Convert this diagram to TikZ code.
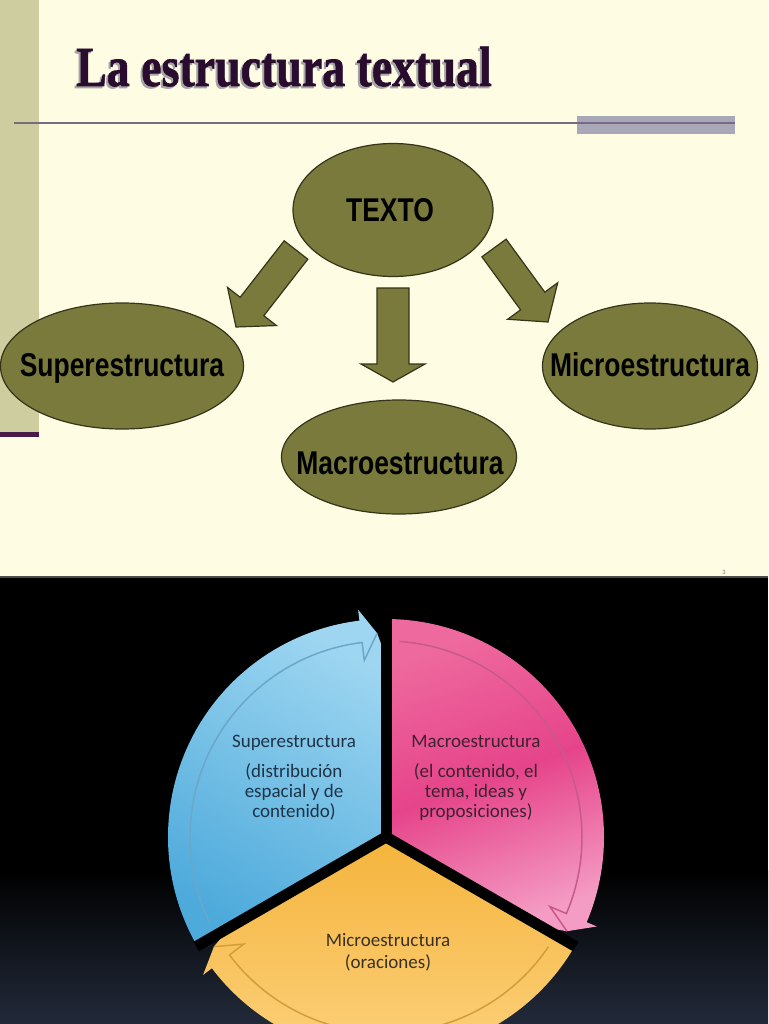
\documentclass[tikz,border=0pt]{standalone}
\usepackage{fontspec}
\setmainfont{Liberation Sans}
\newfontfamily\titlefont[FakeBold=1.2]{Liberation Serif Bold}
\newfontfamily\calfont{Carlito}
\usetikzlibrary{shapes.geometric,calc}
\definecolor{cream}{HTML}{FEFDE3}
\definecolor{stripcol}{HTML}{CDCD9F}
\definecolor{plumline}{HTML}{4A1A4A}
\definecolor{titlecol}{HTML}{2A0C2E}
\definecolor{rulecol}{HTML}{7A6A80}
\definecolor{barcol}{HTML}{A8A8B8}
\definecolor{bubfill}{HTML}{7A7A3C}
\definecolor{bubdraw}{HTML}{34341A}
\definecolor{blueL}{HTML}{9ED6F1}
\definecolor{blueD}{HTML}{4DAADB}
\definecolor{blueLine}{HTML}{4A88AE}
\definecolor{pinkL}{HTML}{F49CC4}
\definecolor{pinkM}{HTML}{E6448A}
\definecolor{pinkT}{HTML}{EE6A9E}
\definecolor{pinkLine}{HTML}{B23E72}
\definecolor{orD}{HTML}{F5B43C}
\definecolor{orL}{HTML}{FCD07A}
\definecolor{orLine}{HTML}{C8922C}
\definecolor{txtblue}{HTML}{1E3446}
\definecolor{txtpink}{HTML}{3E2230}
\definecolor{txtor}{HTML}{3A3024}
\definecolor{navybot}{HTML}{222A3A}
\tikzset{
  bubble/.style={ellipse, draw=bubdraw, line width=1.2pt, fill=bubfill, inner sep=0pt},
  bubtext/.style={anchor=base, inner sep=0pt, font=\bfseries\fontsize{27}{30}\selectfont, text=black},
  blockarrow/.style={fill=bubfill, draw=bubdraw, line width=1.2pt, line join=miter},
  cyctext/.style={anchor=base, inner sep=0pt, font=\calfont\fontsize{19}{22}\selectfont},
  sepline/.style={black, line width=11pt},
  ringline/.style={line width=1.5pt}
}
\newcommand\bt[1]{\scalebox{0.98}[1.22]{#1}}
% start, tip, half shaft, half head, head length
\newcommand\blockarr[5]{%
  \coordinate (ba-b) at ($(#2)!#5!(#1)$);
  \draw[blockarrow] ($(#1)!#3!90:(#2)$) -- ($(ba-b)!#3!90:(#2)$) -- ($(ba-b)!#4!90:(#2)$)
     -- (#2) -- ($(ba-b)!#4!-90:(#2)$) -- ($(ba-b)!#3!-90:(#2)$) -- ($(#1)!#3!-90:(#2)$) -- cycle;
}
\begin{document}
\begin{tikzpicture}[x=1pt,y=-1pt]
\useasboundingbox (0,0) rectangle (768,1024);
% top slide
\fill[cream] (0,0) rectangle (768,576);
\fill[stripcol] (0,0) rectangle (39,432);
\fill[plumline] (0,432) rectangle (39,437);
\fill[barcol] (577,116) rectangle (735,134);
\draw[rulecol, line width=1.6pt] (14,123) -- (735,123);
\node[anchor=base west, inner sep=0pt, text=gray!70] at (74,88)
  {\scalebox{0.85}[1.05]{\titlefont\fontsize{54}{56}\selectfont La estructura textual}};
\node (title) [anchor=base west, inner sep=0pt, text=titlecol] at (76,86)
  {\scalebox{0.85}[1.05]{\titlefont\fontsize{54}{56}\selectfont La estructura textual}};
% bubbles
\node (texto) [bubble, minimum width=200pt, minimum height=133pt] at (393,210) {};
\node (super) [bubble, minimum width=243pt, minimum height=126pt] at (122,366) {};
\node (micro) [bubble, minimum width=215pt, minimum height=126pt] at (650,366) {};
\node (macro) [bubble, minimum width=235pt, minimum height=114pt] at (399,457) {};
\node (textoL) [bubtext] at (390,222) {\bt{TEXTO}};
\node (superL) [bubtext] at (122,376) {\bt{Superestructura}};
\node (microL) [bubtext] at (650,376) {\bt{Microestructura}};
\node (macroL) [bubtext] at (400,474) {\bt{Macroestructura}};
% block arrows
\coordinate (aLs) at (296,250); \coordinate (aLt) at (236,327);
\coordinate (aMs) at (393,288); \coordinate (aMt) at (393,382);
\coordinate (aRs) at (494,248); \coordinate (aRt) at (548,322);
\blockarr{aLs}{aLt}{15pt}{31pt}{26pt}
\blockarr{aMs}{aMt}{16pt}{32pt}{18pt}
\blockarr{aRs}{aRt}{15pt}{31pt}{26pt}
\node (pg) [text=gray, font=\fontsize{6}{7}\selectfont, inner sep=0pt] at (724,572) {3};
% bottom slide
\fill[black] (0,577) rectangle (768,1024);
\shade[top color=black, bottom color=navybot] (0,870) rectangle (768,1024);
\draw[gray!60!black, line width=2pt] (0,577) -- (768,577);
% cycle
\begin{scope}[shift={(386,837)}]
  \shade[top color=blueL, bottom color=blueD, shading angle=-30]
    (0,0) -- (210:218pt) arc[start angle=210, end angle=97, radius=218pt]
    -- (97:229pt) -- (92.5:204pt) -- (90:180pt) -- cycle;
  \shade[top color=pinkT, bottom color=pinkL, middle color=pinkM, shading angle=20]
    (0,0) -- (90:218pt) arc[start angle=90, end angle=-23, radius=218pt]
    -- (-23:229pt) -- (-27.5:204pt) -- (-30:180pt) -- cycle;
  \shade[top color=orD, bottom color=orL]
    (0,0) -- (-30:218pt) arc[start angle=-30, end angle=-143, radius=218pt]
    -- (-143:229pt) -- (-147.5:204pt) -- (-150:180pt) -- cycle;
  \draw[ringline, blueLine!60!blueL] (206:196pt) arc[start angle=206, end angle=97, radius=196pt]
    -- (97:178pt) -- (92.5:204pt);
  \draw[ringline, pinkLine!70!pinkL] (86:196pt) arc[start angle=86, end angle=-23, radius=196pt]
    -- (-23:178pt) -- (-27.5:204pt);
  \draw[ringline, orLine!80!orL] (-34:196pt) arc[start angle=-34, end angle=-143, radius=196pt]
    -- (-143:178pt) -- (-147.5:204pt);
  \draw[sepline] (0,0) -- (90:220pt);
  \draw[sepline] (0,0) -- (-30:219pt);
  \draw[sepline] (0,0) -- (210:219pt);
\end{scope}
% cycle texts
\node (s1) [cyctext, text=txtblue] at (294,747) {Superestructura};
\node (s2) [cyctext, text=txtblue] at (294,777) {(distribución};
\node (s3) [cyctext, text=txtblue] at (294,797) {espacial y de};
\node (s4) [cyctext, text=txtblue] at (294,817) {contenido)};
\node (m1) [cyctext, text=txtpink] at (476,747) {Macroestructura};
\node (m2) [cyctext, text=txtpink] at (476,777) {(el contenido, el};
\node (m3) [cyctext, text=txtpink] at (476,797) {tema, ideas y};
\node (m4) [cyctext, text=txtpink] at (476,817) {proposiciones)};
\node (o1) [cyctext, text=txtor] at (388,946) {Microestructura};
\node (o2) [cyctext, text=txtor] at (388,968) {(oraciones)};
\end{tikzpicture}
\end{document}
